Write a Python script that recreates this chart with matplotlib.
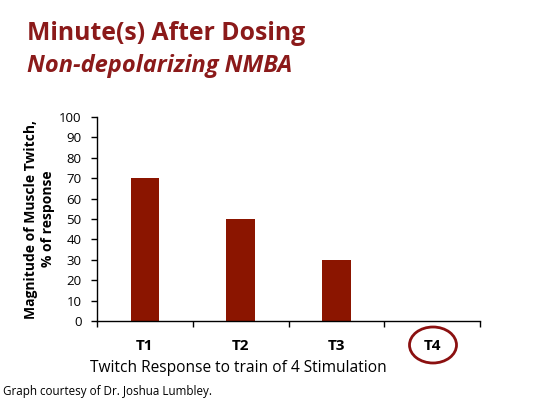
import matplotlib
matplotlib.use("Agg")
import matplotlib.pyplot as plt
from matplotlib.patches import Ellipse

categories = ["T1", "T2", "T3", "T4"]
values = [70, 50, 30, 0]
yticks = [0, 10, 20, 30, 40, 50, 60, 70, 80, 90, 100]

plt.rcParams['font.family'] = ['Open Sans', 'DejaVu Sans']

fig = plt.figure(figsize=(5.4, 4.05), dpi=100)
W, H = 540, 405
x0, x1 = 97, 480
y0, y1 = 321, 117
ax = fig.add_axes([x0 / W, 1 - y0 / H, (x1 - x0) / W, (y0 - y1) / H])

bar_color = "#8B1500"
ax.bar(range(len(categories)), values, width=0.3, color=bar_color)
ax.set_xlim(-0.5, len(categories) - 0.5)
ax.set_ylim(0, 100)
ax.set_yticks(yticks)
ax.set_yticklabels([str(v) for v in yticks], fontsize=9.5)
ax.set_xticks([i - 0.5 for i in range(len(categories) + 1)])
ax.set_xticklabels([])
ax.set_xticks(range(len(categories)), minor=True)
ax.set_xticklabels(categories, minor=True, fontsize=11, fontweight='bold')
ax.tick_params(axis='x', which='minor', length=0, pad=13)
ax.tick_params(axis='x', which='major', length=4, direction='out', width=1)
ax.tick_params(axis='y', length=4, direction='out', width=1, pad=7)
for s in ["top", "right"]:
    ax.spines[s].set_visible(False)
for s in ["left", "bottom"]:
    ax.spines[s].set_linewidth(1)
ax.set_xlabel("Twitch Response to train of 4 Stimulation", fontsize=11.2)
ax.xaxis.set_label_coords((238 - x0) / (x1 - x0), -(368 - y0) / (y0 - y1), transform=ax.transAxes)
ax.xaxis.label.set_va('center')
ax.set_ylabel("Magnitude of Muscle Twitch,\n% of response", fontsize=10,
              fontweight='bold', linespacing=1.3)
ax.yaxis.set_label_coords(-(97 - 55) / (x1 - x0), 0.5)

# circle around T4
ell = Ellipse((433 / W, 1 - 345 / H), 47 / W, 36 / H, transform=fig.transFigure,
              fill=False, edgecolor="#8B1010", linewidth=2)
fig.patches.append(ell)

title_color = "#8B1A1A"
fig.text(27 / W, 1 - 33 / H, "Minute(s) After Dosing", fontsize=17.8, fontweight='bold',
         color=title_color, va='center', ha='left')
fig.text(27 / W, 1 - 66 / H, "Non-depolarizing NMBA", fontsize=17, fontweight='bold',
         style='italic', color=title_color, va='center', ha='left')
fig.text(3 / W, 1 - 392 / H, "Graph courtesy of Dr. Joshua Lumbley.", fontsize=8.4,
         va='center', ha='left')

fig.savefig("out.png", dpi=100)
